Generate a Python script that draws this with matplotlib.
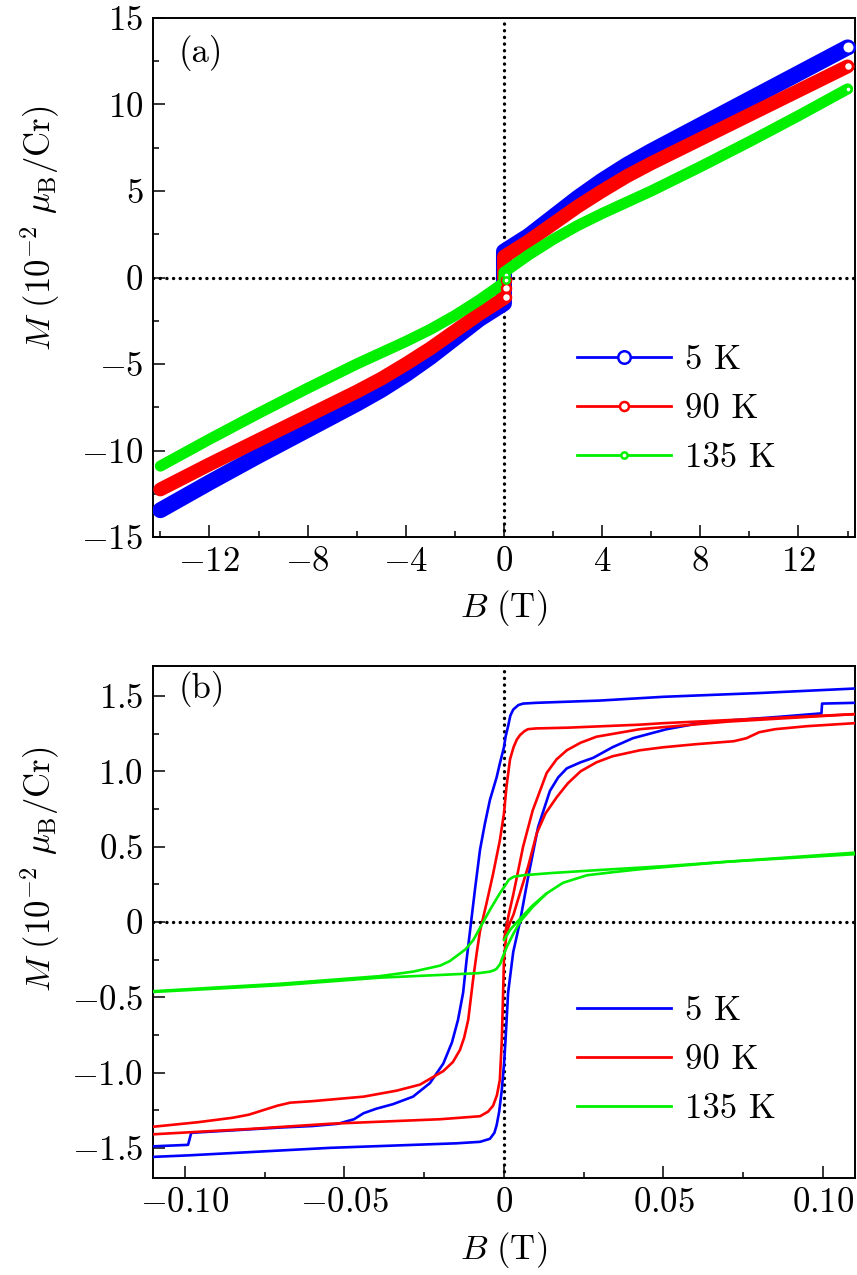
import matplotlib
matplotlib.use("Agg")
import matplotlib.pyplot as plt
from matplotlib.lines import Line2D
from matplotlib.ticker import MultipleLocator, FixedLocator

plt.rcParams['font.family'] = 'serif'
plt.rcParams['font.serif'] = ['cmr10']
plt.rcParams['mathtext.fontset'] = 'cm'
plt.rcParams['axes.unicode_minus'] = False

# ---- panel (a): M(B) over the full field range ----
field_a = [-14, -12, -10, -8, -6, -5, -4, -3, -2, -1, 0, 0, 1, 2, 3, 4, 5, 6, 8, 10, 12, 14]
m_5K = [-13.45, -11.85, -10.3, -8.8, -7.3, -6.5, -5.6, -4.6, -3.5, -2.4, -1.5,
        1.5, 2.4, 3.5, 4.6, 5.6, 6.5, 7.3, 8.8, 10.3, 11.8, 13.3]
m_90K = [-12.25, -10.8, -9.4, -8.0, -6.6, -5.85, -5.0, -4.1, -3.1, -2.1, -1.2,
         1.2, 2.1, 3.1, 4.1, 5.0, 5.85, 6.6, 8.0, 9.4, 10.8, 12.2]
m_135K = [-10.9, -9.35, -7.85, -6.4, -5.0, -4.35, -3.7, -3.0, -2.2, -1.3, -0.3,
          0.3, 1.3, 2.2, 3.0, 3.7, 4.35, 5.0, 6.4, 7.85, 9.35, 10.9]
# last points of the sweep, left visible near B = 0
tail_b_90K = [0.1, 0.1, 0.1]
tail_m_90K = [-0.15, -0.6, -1.1]
tail_b_135K = [0.1, 0.1]
tail_m_135K = [0.15, -0.15]

# ---- panel (b): low-field hysteresis loops ----
b5_down = [0.11, 0.08, 0.05, 0.03, 0.01, 0.006, 0.0045, 0.0029, 0.002, 0.0013, 0.0005,
           0.0, -0.0012, -0.0023, -0.0044, -0.006, -0.0075, -0.009, -0.0103, -0.0117,
           -0.0128, -0.0144, -0.0163, -0.019, -0.0232, -0.0285, -0.0348, -0.040, -0.044,
           -0.047, -0.052, -0.06, -0.07, -0.098, -0.099, -0.11]
m5_down = [1.55, 1.52, 1.495, 1.47, 1.455, 1.45, 1.44, 1.41, 1.37, 1.30, 1.23,
           1.16, 1.06, 0.96, 0.81, 0.65, 0.48, 0.23, 0.0, -0.25,
           -0.47, -0.65, -0.80, -0.94, -1.07, -1.16, -1.21, -1.24, -1.27,
           -1.31, -1.34, -1.355, -1.365, -1.40, -1.48, -1.49]
b5_up = [-0.11, -0.099, -0.0545, -0.015, -0.0075, -0.0044, -0.003, -0.0023, -0.0015,
         -0.0007, 0.0, 0.0005, 0.0013, 0.0029, 0.005, 0.0076, 0.0107, 0.0144, 0.017,
         0.0197, 0.024, 0.028, 0.034, 0.0404, 0.051, 0.06, 0.072, 0.085, 0.0995, 0.0997, 0.11]
m5_up = [-1.56, -1.55, -1.50, -1.47, -1.46, -1.44, -1.40, -1.35, -1.26,
         -1.12, -0.95, -0.78, -0.47, -0.2, 0.0, 0.3, 0.63, 0.87, 0.96,
         1.02, 1.06, 1.09, 1.16, 1.22, 1.28, 1.315, 1.34, 1.36, 1.385, 1.45, 1.455]

b90_down = [0.11, 0.08, 0.05, 0.0426, 0.02, 0.01, 0.0075, 0.0063, 0.005, 0.004, 0.003,
            0.0019, 0.0008, 0.0, -0.0013, -0.0034, -0.0054, -0.0075, -0.0085, -0.0096,
            -0.0112, -0.0125, -0.0138, -0.016, -0.019, -0.0263, -0.0336, -0.044, -0.06,
            -0.067, -0.071, -0.0755, -0.08, -0.085, -0.096, -0.11]
m90_down = [1.38, 1.35, 1.32, 1.31, 1.29, 1.285, 1.28, 1.265, 1.24, 1.21, 1.16,
            1.08, 0.90, 0.72, 0.54, 0.32, 0.13, -0.06, -0.2, -0.37,
            -0.65, -0.77, -0.85, -0.93, -0.99, -1.08, -1.12, -1.16, -1.19,
            -1.20, -1.22, -1.25, -1.28, -1.30, -1.33, -1.36]
b90_up = [-0.11, -0.08, -0.0545, -0.02, -0.0075, -0.005, -0.0034, -0.0022, -0.0013,
          -0.0007, -0.0003, 0.0, 0.0008, 0.002, 0.003, 0.005, 0.0076, 0.0103, 0.013,
          0.0166, 0.02, 0.024, 0.029, 0.034, 0.0426, 0.05, 0.06, 0.072, 0.076, 0.08,
          0.085, 0.095, 0.11]
m90_up = [-1.41, -1.375, -1.34, -1.31, -1.29, -1.26, -1.22, -1.15, -1.05,
          -0.80, -0.50, -0.25, -0.07, 0.0, 0.05, 0.19, 0.37, 0.59, 0.72,
          0.83, 0.92, 1.0, 1.06, 1.10, 1.14, 1.16, 1.18, 1.20, 1.22, 1.26,
          1.28, 1.30, 1.32]
b90_virgin = [0.0, 0.0015, 0.003, 0.006, 0.009, 0.0134, 0.0165, 0.0197, 0.024, 0.029,
              0.0426, 0.07, 0.11]
m90_virgin = [-0.12, 0.05, 0.19, 0.50, 0.74, 0.99, 1.08, 1.14, 1.19, 1.23,
              1.28, 1.33, 1.38]

b135_down = [0.11, 0.08, 0.05, 0.03, 0.015, 0.006, 0.003, 0.0015, 0.0003, -0.0013,
             -0.003, -0.0044, -0.0065, -0.0096, -0.012, -0.0138, -0.017, -0.02, -0.0285,
             -0.039, -0.07, -0.11]
m135_down = [0.46, 0.415, 0.37, 0.345, 0.325, 0.31, 0.30, 0.28, 0.24, 0.19,
             0.13, 0.08, 0.0, -0.12, -0.18, -0.21, -0.26, -0.29, -0.33,
             -0.36, -0.41, -0.46]
b135_up = [-0.11, -0.07, -0.039, -0.018, -0.008, -0.0044, -0.003, -0.0023, -0.0012,
           -0.0007, 0.0008, 0.0029, 0.005, 0.009, 0.0134, 0.0185, 0.026, 0.034, 0.0426,
           0.07, 0.11]
m135_up = [-0.465, -0.42, -0.37, -0.35, -0.34, -0.33, -0.32, -0.31, -0.28,
           -0.25, -0.17, -0.08, 0.0, 0.10, 0.19, 0.26, 0.31, 0.33, 0.35,
           0.40, 0.45]
b135_virgin = [0.0, 0.002, 0.005, 0.009, 0.0134]
m135_virgin = [-0.12, -0.05, 0.02, 0.11, 0.19]

labels = ['5 K', '90 K', '135 K']
colors = ['#0000ff', '#ff0000', '#00f000']

FS = 25
ylab = r'$M\ (10^{-2}\ \mu_{\rm B}/{\rm Cr})$'
xlab = r'$B\ ({\rm T})$'


def style_axes(ax):
    for s in ax.spines.values():
        s.set_linewidth(1.4)
    ax.tick_params(which='both', direction='in', top=False, right=False,
                   width=1.1, labelsize=FS, pad=7)
    ax.tick_params(which='major', length=8.5)
    ax.tick_params(which='minor', length=4.5)
    ax.axhline(0, color='black', lw=2.4, ls=(0, (0.05, 1.95)),
               dash_capstyle='round', zorder=1)
    ax.axvline(0, color='black', lw=2.4, ls=(0, (0.05, 1.95)),
               dash_capstyle='round', zorder=1)


def mlab(v, fmt):
    if v == 0:
        return r'$0$'
    return '$' + (fmt % v) + '$'


fig = plt.figure(figsize=(8.57, 12.75), dpi=100)
ax1 = fig.add_axes([0.1785, 0.5788, 0.8191, 0.4071])
ax2 = fig.add_axes([0.1785, 0.0761, 0.8191, 0.4016])

# panel (a)
band_w = [11.5, 10.0, 8.0]
mark_s = [9.0, 6.5, 4.5]
for m, c, bw, ms in zip([m_5K, m_90K, m_135K], colors, band_w, mark_s):
    ax1.plot(field_a, m, color=c, lw=bw, solid_capstyle='round',
             solid_joinstyle='round', zorder=3)
    ax1.plot(field_a[-1:], m[-1:], 'o', color=c, ms=ms, mfc='white', mew=1.8, zorder=4)
ax1.plot(tail_b_90K, tail_m_90K, 'o', color=colors[1], ms=mark_s[1], mfc='white',
         mew=1.8, zorder=4)
ax1.plot(tail_b_135K, tail_m_135K, 'o', color=colors[2], ms=mark_s[2], mfc='white',
         mew=1.8, zorder=5)
style_axes(ax1)
ax1.set_xlim(-14.3, 14.3)
ax1.set_ylim(-15, 15)
xt = [-12, -8, -4, 0, 4, 8, 12]
yt = [-15, -10, -5, 0, 5, 10, 15]
ax1.xaxis.set_major_locator(FixedLocator(xt))
ax1.set_xticklabels([mlab(v, '%d') for v in xt])
ax1.yaxis.set_major_locator(FixedLocator(yt))
ax1.set_yticklabels([mlab(v, '%d') for v in yt])
ax1.xaxis.set_minor_locator(MultipleLocator(2))
ax1.yaxis.set_minor_locator(MultipleLocator(2.5))
ax1.set_xlabel(xlab, fontsize=FS)
ax1.set_ylabel(ylab, fontsize=FS)
ax1.xaxis.set_label_coords(0.5, -0.098)
ax1.yaxis.set_label_coords(-0.13, 0.595)
ax1.text(0.037, 0.933, '(a)', transform=ax1.transAxes, fontsize=FS, va='center')
h1 = [Line2D([], [], color=c, lw=2.0, marker='o', ms=ms, mfc='white', mew=1.8)
      for c, ms in zip(colors, mark_s)]
ax1.legend(h1, labels, loc='center left', bbox_to_anchor=(0.604, 0.2466),
           frameon=False, fontsize=FS, borderpad=0, borderaxespad=0,
           handlelength=2.7, handletextpad=0.4, labelspacing=0.5)

# panel (b)
loops = [
    [(b5_down, m5_down), (b5_up, m5_up)],
    [(b90_down, m90_down), (b90_up, m90_up), (b90_virgin, m90_virgin)],
    [(b135_down, m135_down), (b135_up, m135_up), (b135_virgin, m135_virgin)],
]
for branches, c in zip(loops, colors):
    for bb, mm in branches:
        ax2.plot(bb, mm, color=c, lw=1.9, zorder=3,
                 solid_joinstyle='round', solid_capstyle='round')
style_axes(ax2)
ax2.set_xlim(-0.11, 0.11)
ax2.set_ylim(-1.7, 1.7)
xt2 = [-0.1, -0.05, 0, 0.05, 0.1]
yt2 = [-1.5, -1.0, -0.5, 0, 0.5, 1.0, 1.5]
ax2.xaxis.set_major_locator(FixedLocator(xt2))
ax2.set_xticklabels([mlab(v, '%.2f') for v in xt2])
ax2.yaxis.set_major_locator(FixedLocator(yt2))
ax2.set_yticklabels([mlab(v, '%.1f') for v in yt2])
ax2.xaxis.set_minor_locator(MultipleLocator(0.025))
ax2.yaxis.set_minor_locator(MultipleLocator(0.25))
ax2.set_xlabel(xlab, fontsize=FS)
ax2.set_ylabel(ylab, fontsize=FS)
ax2.xaxis.set_label_coords(0.5, -0.1016)
ax2.yaxis.set_label_coords(-0.13, 0.602)
ax2.text(0.037, 0.955, '(b)', transform=ax2.transAxes, fontsize=FS, va='center')
h2 = [Line2D([], [], color=c, lw=2.0) for c in colors]
ax2.legend(h2, labels, loc='center left', bbox_to_anchor=(0.604, 0.2305),
           frameon=False, fontsize=FS, borderpad=0, borderaxespad=0,
           handlelength=2.7, handletextpad=0.4, labelspacing=0.5)

fig.savefig('out.png', dpi=100)
